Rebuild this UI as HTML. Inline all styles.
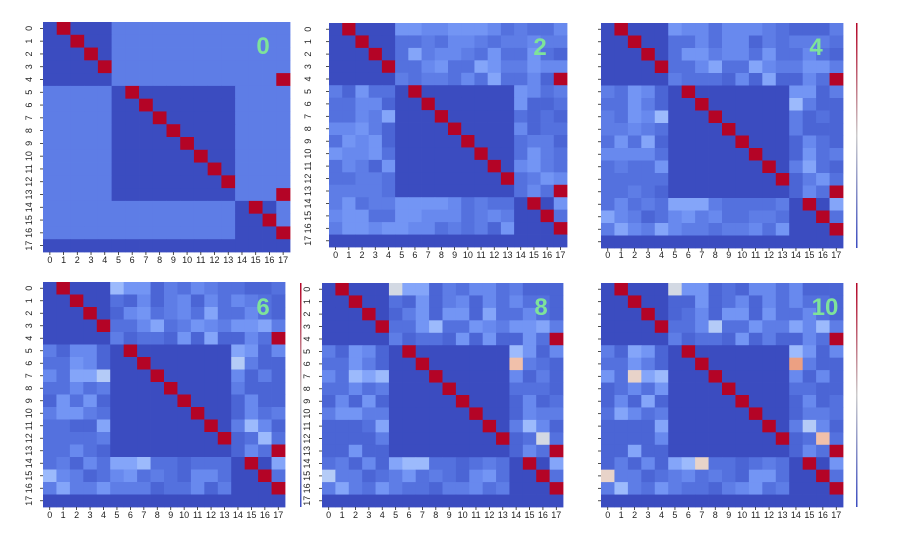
<!DOCTYPE html>
<html><head><meta charset="utf-8"><style>
html,body{margin:0;padding:0;background:#fff;}
svg{display:block;font-family:"Liberation Sans",sans-serif;}
</style></head><body>
<svg id="fig" width="908" height="536" viewBox="0 0 908 536" xmlns="http://www.w3.org/2000/svg">
<defs><linearGradient id="cbg" x1="0" y1="0" x2="0" y2="1"><stop offset="0" stop-color="#b40426"/><stop offset="0.5" stop-color="#cccccc"/><stop offset="1" stop-color="#3b4cc0"/></linearGradient></defs>
<rect x="856" y="23" width="1.5" height="225" fill="url(#cbg)"/>
<rect x="856" y="283" width="1.5" height="224" fill="url(#cbg)"/>
<rect x="300" y="283" width="1.5" height="224" fill="url(#cbg)"/>
</svg>
<script>
const categories = ["0","1","2","3","4","5","6","7","8","9","10","11","12","13","14","15","16","17"];
const panelLabels = ["0","2","4","6","8","10"];
const panel0 = [
"0r000|444444444|444|4","00r00|444444444|444|4","000r0|444444444|444|4","0000r|444444444|444|4","00000|444444444|444|r",
"44444|0r0000000|444|4","44444|00r000000|444|4","44444|000r00000|444|4","44444|0000r0000|444|4","44444|00000r000|444|4",
"44444|000000r00|444|4","44444|0000000r0|444|4","44444|00000000r|444|4","44444|000000000|444|r",
"44444|444444444|0r0|4","44444|444444444|00r|4","44444|444444444|000|r","00000|000000000|000|0"];
const panel2 = [
"0r000|665566653|433|5","00r00|334355434|454|4","000r0|374554363|363|2","0000r|335633764|465|5","00000|434435373|352|r",
"42633|0r0000000|653|4","33552|00r000000|622|3","33547|000r00000|323|2","55642|0000r0000|523|3","36562|00000r000|344|2",
"65563|000000r00|364|3","35426|0000000r0|564|3","33443|00000000r|346|5","44443|000000000|353|r",
"46344|666653433|0r0|6","56633|665553454|00r|3","46656|655343426|000|r","00000|000000000|000|0"];
const panel4 = [
"0r000|655355543|222|4","00r00|335355243|444|3","000r0|366455363|353|2","0000r|335733754|466|4","00000|433325272|253|r",
"43652|0r0000000|662|4","33642|00r000000|842|2","43658|000r00000|423|2","44543|0000r0000|422|2","36372|00000r000|253|2",
"55553|000000r00|263|4","34336|0000000r0|473|2","33333|00000000r|246|3","33432|000000000|253|r",
"35343|777433334|0r0|7","75423|564533443|00r|3","47547|544344536|000|r","00000|000000000|000|0"];
const panel6 = [
"0r000|866243543|322|3","00r00|325245253|543|2","000r0|256345373|353|2","0000r|335734654|667|4","00000|423326272|253|r",
"42552|0r0000000|762|5","33652|00r000000|942|2","53779|000r00000|524|2","33534|0000r0000|422|2","26362|00000r000|252|2",
"46643|000000r00|253|4","33227|0000000r0|485|2","33334|00000000r|238|3","33532|000000000|253|r",
"34253|778332333|0r0|7","85423|563432553|00r|3","47446|444233524|000|r","00000|000000000|000|0"];
const panel8 = [
"0r000|a77243553|422|2","00r00|326245253|533|2","000r0|246266273|353|2","0000r|336833654|667|4","00000|423326262|263|r",
"42652|0r0000000|862|5","33642|00r000000|c43|2","53878|000r00000|524|2","33534|0000r0000|333|2","25262|00000r000|252|3",
"46644|000000r00|254|4","22237|0000000r0|485|2","22224|00000000r|23a|3","22622|000000000|253|r",
"34252|788332343|0r0|7","94423|463432563|00r|3","47436|433244534|000|r","00000|000000000|000|0"];
const panel10 = [
"0r000|a66232553|522|2","00r00|226235253|533|2","000r0|235266263|353|2","0000r|335933644|758|4","00000|423326242|253|r",
"42762|0r0000000|862|5","33642|00r000000|d42|2","63b78|000r00000|525|2","23536|0000r0000|332|2","25272|00000r000|252|3",
"37534|000000r00|244|3","22227|0000000r0|495|2","22225|00000000r|23c|3","22722|000000000|253|r",
"24252|78b332343|0r0|6","b4423|453432663|00r|3","48436|433245634|000|r","00000|000000000|000|0"];
const panelData = [panel0, panel2, panel4, panel6, panel8, panel10];
</script>
<script>
const levelVals = {"0":0,"1":0.045,"2":0.09,"3":0.135,"4":0.18,"5":0.225,"6":0.27,"7":0.32,"8":0.37,"9":0.42,"a":0.48,"b":0.55,"c":0.62,"d":0.7,"r":1};
const stops = [[59,76,192],[77,104,215],[98,130,234],[122,157,248],[170,199,253],[221,221,221],[242,200,180],[236,160,130],[228,118,93],[204,64,60],[180,4,38]];
function cmap(v){
  v=Math.max(0,Math.min(1,v));
  const f=v*10, i=Math.min(9,Math.floor(f)), t=f-i;
  const a=stops[i], b=stops[i+1];
  return "rgb("+a.map((c,k)=>Math.round(c+(b[k]-c)*t)).join(",")+")";
}
const layout = [
  {x:43,y:22,w:247,h:230,ylab:true,ly:32,xl:263,lx:263,lyy:54},
  {x:329,y:23,w:238,h:224,ylab:true,ly:311,xl:258,lx:540,lyy:55},
  {x:601,y:23,w:242,h:225,ylab:false,ly:0,xl:258,lx:816,lyy:55},
  {x:43,y:282,w:242,h:225,ylab:true,ly:32,xl:518,lx:263,lyy:315},
  {x:322,y:283,w:241,h:224,ylab:true,ly:310,xl:518,lx:541,lyy:315},
  {x:601,y:283,w:242,h:224,ylab:false,ly:0,xl:518,lx:825,lyy:315}
];
const NS="http://www.w3.org/2000/svg";
const svg=document.getElementById('fig');
function mk(tag, attrs){const e=document.createElementNS(NS,tag);for(const k in attrs)e.setAttribute(k,attrs[k]);return e;}
panelData.forEach((data,p)=>{
  const L=layout[p];
  const g=mk('g',{});
  
  
  svg.appendChild(g);
  const n=categories.length;
  const cw=L.w/n, ch=L.h/n;
  const xs=i=>L.x+i*cw, ys=j=>L.y+j*ch;
  for(let r=0;r<n;r++){
    const row=data[r].split("|").join("");
    for(let c=0;c<n;c++){
      const ch_=row[c]||"0";
      const v=levelVals[ch_]!==undefined?levelVals[ch_]:0;
      const rect=mk('rect',{x:xs(c).toFixed(2),y:ys(r).toFixed(2),width:(cw+0.4).toFixed(2),height:(ch+0.4).toFixed(2),fill:cmap(v)});
      
      
      g.appendChild(rect);
    }
  }
  categories.forEach((lab,i)=>{
    const t=mk('text',{x:(xs(i)+cw/2).toFixed(2),y:L.xl,'font-size':'9','text-anchor':'middle',fill:'#222'});
    t.textContent=lab;
    
    
    g.appendChild(t);
    g.appendChild(mk('line',{x1:xs(i)+cw/2,x2:xs(i)+cw/2,y1:L.y+L.h,y2:L.y+L.h+3,stroke:'#222','stroke-width':0.8}));
    const yc=ys(i)+ch/2;
    g.appendChild(mk('line',{x1:L.x-3,x2:L.x,y1:yc,y2:yc,stroke:'#222','stroke-width':0.8}));
    if(L.ylab){
      const yt=mk('text',{x:L.ly,y:yc,'font-size':'9','text-anchor':'middle',fill:'#222',transform:'rotate(-90 '+L.ly+' '+yc+')'});
      yt.textContent=lab;
      
      
      g.appendChild(yt);
    }
  });
  const pl=mk('text',{x:L.lx,y:L.lyy,'font-size':'24','font-weight':'bold','text-anchor':'middle',fill:'#7ee39a'});
  pl.textContent=panelLabels[p];
  
  
  g.appendChild(pl);
});
</script>
</body></html>
